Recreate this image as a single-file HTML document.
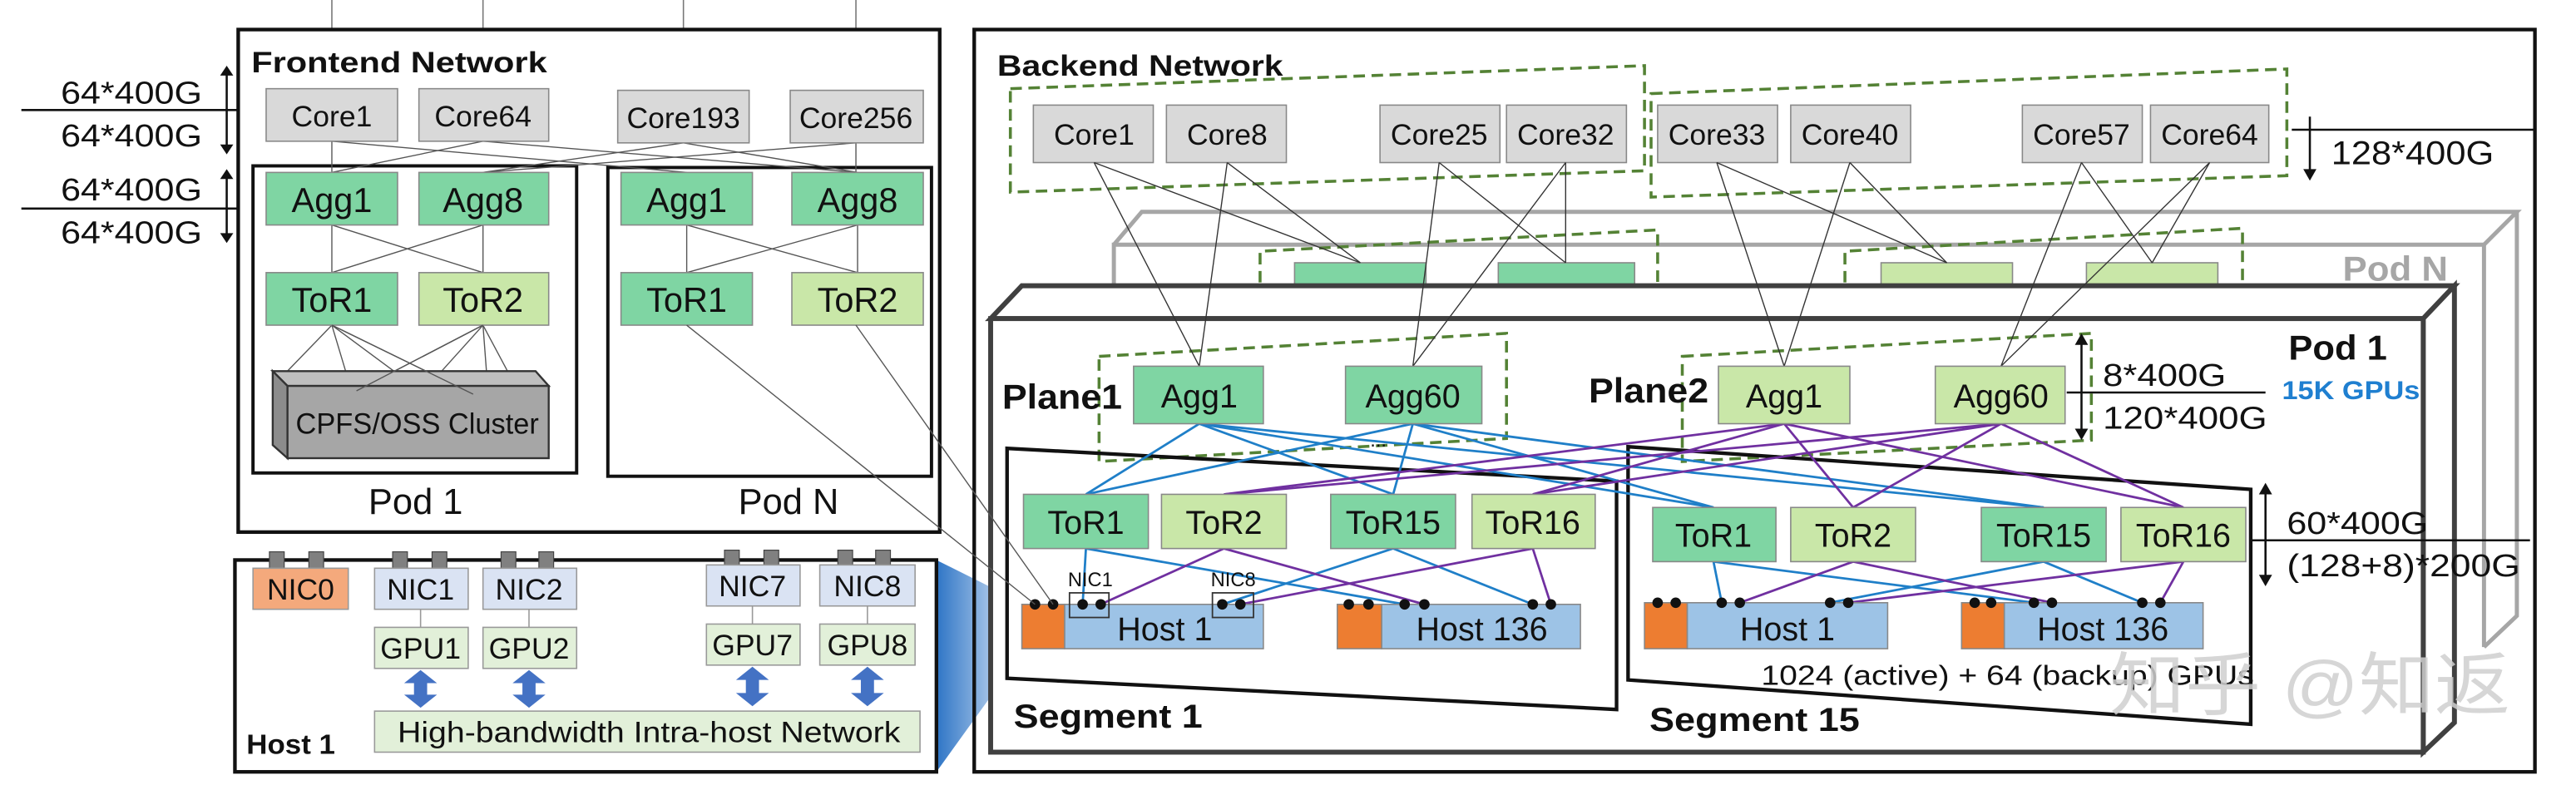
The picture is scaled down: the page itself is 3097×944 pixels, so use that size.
<!DOCTYPE html>
<html><head><meta charset="utf-8"><style>
html,body{margin:0;padding:0;background:#fff}
svg{display:block}
text{font-family:"Liberation Sans","Noto Sans CJK SC",sans-serif;fill:#111}
.b{font-weight:bold}
.c{text-anchor:middle}
</style></head><body>
<svg width="3097" height="944" viewBox="0 0 1568 478" preserveAspectRatio="none" xmlns="http://www.w3.org/2000/svg">
<defs>
<linearGradient id="bg" x1="0" y1="0" x2="1" y2="0">
<stop offset="0" stop-color="#2e75c6"/><stop offset="1" stop-color="#eef4fb"/>
</linearGradient>
</defs>
<g stroke="#777" stroke-width="0.8" fill="none">
<line x1="202" y1="0" x2="202" y2="54"/><line x1="294" y1="0" x2="294" y2="54"/>
<line x1="416" y1="0" x2="416" y2="54"/><line x1="521" y1="0" x2="521" y2="54"/>
</g>
<!-- Frontend -->
<rect x="145" y="18" width="427" height="306" fill="#fff" stroke="#111" stroke-width="2.2"/>
<text x="153" y="44" class="b" font-size="18" textLength="180" lengthAdjust="spacingAndGlyphs">Frontend Network</text>
<g font-size="19">
<text x="37" y="63" textLength="86" lengthAdjust="spacingAndGlyphs">64*400G</text>
<text x="37" y="89" textLength="86" lengthAdjust="spacingAndGlyphs">64*400G</text>
<text x="37" y="122" textLength="86" lengthAdjust="spacingAndGlyphs">64*400G</text>
<text x="37" y="148" textLength="86" lengthAdjust="spacingAndGlyphs">64*400G</text>
</g>
<g stroke="#111" stroke-width="1.3">
<line x1="13" y1="67" x2="146" y2="67"/><line x1="13" y1="127" x2="146" y2="127"/>
<line x1="138" y1="44" x2="138" y2="90"/><line x1="138" y1="107" x2="138" y2="144"/>
</g>
<g fill="#111">
<polygon points="134,46 142,46 138,40"/><polygon points="134,88 142,88 138,94"/>
<polygon points="134,109 142,109 138,103"/><polygon points="134,142 142,142 138,148"/>
</g>
<rect x="154" y="101" width="197" height="187" fill="none" stroke="#111" stroke-width="2"/>
<rect x="370" y="102" width="197" height="188" fill="none" stroke="#111" stroke-width="2"/>
<g stroke="#555" stroke-width="0.7" fill="none">
<line x1="202" y1="86" x2="202" y2="105"/><line x1="202" y1="86" x2="418" y2="105"/>
<line x1="294" y1="86" x2="202" y2="105"/><line x1="294" y1="86" x2="522" y2="105"/>
<line x1="416" y1="87" x2="294" y2="105"/><line x1="416" y1="87" x2="522" y2="105"/>
<line x1="521" y1="87" x2="294" y2="105"/><line x1="521" y1="87" x2="521" y2="105"/>
<line x1="202" y1="137" x2="202" y2="166"/><line x1="202" y1="137" x2="294" y2="166"/>
<line x1="294" y1="137" x2="202" y2="166"/><line x1="294" y1="137" x2="294" y2="166"/>
<line x1="418" y1="137" x2="418" y2="166"/><line x1="418" y1="137" x2="522" y2="166"/>
<line x1="522" y1="137" x2="418" y2="166"/><line x1="522" y1="137" x2="522" y2="166"/>
<line x1="202" y1="198" x2="173" y2="228"/><line x1="202" y1="198" x2="214" y2="238"/>
<line x1="202" y1="198" x2="256" y2="238"/><line x1="202" y1="198" x2="288" y2="240"/>
<line x1="294" y1="198" x2="217" y2="238"/><line x1="294" y1="198" x2="258" y2="238"/>
<line x1="294" y1="198" x2="297" y2="238"/><line x1="294" y1="198" x2="310" y2="228"/>
</g>
<g stroke="#888" stroke-width="0.8">
<rect x="162" y="54" width="80" height="32" fill="#d9d9d9"/>
<rect x="255" y="54" width="79" height="32" fill="#d9d9d9"/>
<rect x="376" y="55" width="80" height="32" fill="#d9d9d9"/>
<rect x="481" y="55" width="81" height="32" fill="#d9d9d9"/>
<rect x="162" y="105" width="80" height="32" fill="#7fd5a3"/>
<rect x="255" y="105" width="79" height="32" fill="#7fd5a3"/>
<rect x="378" y="105" width="80" height="32" fill="#7fd5a3"/>
<rect x="482" y="105" width="80" height="32" fill="#7fd5a3"/>
<rect x="162" y="166" width="80" height="32" fill="#7fd5a3"/>
<rect x="255" y="166" width="79" height="32" fill="#c9e7a8"/>
<rect x="378" y="166" width="80" height="32" fill="#7fd5a3"/>
<rect x="482" y="166" width="80" height="32" fill="#c9e7a8"/>
</g>
<g font-size="18">
<text x="202" y="77" class="c">Core1</text>
<text x="294" y="77" class="c">Core64</text>
<text x="416" y="78" class="c">Core193</text>
<text x="521" y="78" class="c">Core256</text>
</g>
<g font-size="21">
<text x="202" y="129" class="c">Agg1</text><text x="294" y="129" class="c">Agg8</text>
<text x="418" y="129" class="c">Agg1</text><text x="522" y="129" class="c">Agg8</text>
<text x="202" y="190" class="c">ToR1</text><text x="294" y="190" class="c">ToR2</text>
<text x="418" y="190" class="c">ToR1</text><text x="522" y="190" class="c">ToR2</text>
</g>
<!-- CPFS -->
<polygon points="166,226 326,226 334,235 175,235" fill="#bfbfbf" stroke="#333" stroke-width="1.2"/>
<polygon points="166,226 175,235 175,279 166,271" fill="#8c8c8c" stroke="#333" stroke-width="1.2"/>
<rect x="175" y="235" width="159" height="44" fill="#a6a6a6" stroke="#333" stroke-width="1.2"/>
<text x="254" y="264" class="c" font-size="18" textLength="148" lengthAdjust="spacingAndGlyphs">CPFS/OSS Cluster</text>
<g stroke="#555" stroke-width="0.7"><line x1="202" y1="198" x2="288" y2="240"/><line x1="294" y1="198" x2="217" y2="238"/></g>
<text x="253" y="313" class="c" font-size="22">Pod 1</text>
<text x="480" y="313" class="c" font-size="22">Pod N</text>
<!-- Host 1 -->
<polygon points="570,341 624,368 624,395 570,470" fill="url(#bg)"/>
<rect x="143" y="341" width="427" height="129" fill="#fff" stroke="#111" stroke-width="2.2"/>
<g fill="#808080" stroke="#444" stroke-width="0.6">
<rect x="164" y="336" width="9" height="11"/><rect x="188" y="336" width="9" height="11"/>
<rect x="239" y="336" width="9" height="11"/><rect x="263" y="336" width="9" height="11"/>
<rect x="305" y="336" width="9" height="11"/><rect x="328" y="336" width="9" height="11"/>
<rect x="441" y="335" width="9" height="11"/><rect x="465" y="335" width="9" height="11"/>
<rect x="510" y="335" width="9" height="11"/><rect x="533" y="335" width="9" height="11"/>
</g>
<g stroke="#999" stroke-width="0.8">
<rect x="154" y="346" width="58" height="25" fill="#f4a97c"/>
<rect x="228" y="346" width="57" height="25" fill="#dae3f3"/>
<rect x="294" y="346" width="57" height="25" fill="#dae3f3"/>
<rect x="430" y="344" width="57" height="25" fill="#dae3f3"/>
<rect x="499" y="344" width="58" height="25" fill="#dae3f3"/>
<line x1="256" y1="371" x2="256" y2="382"/><line x1="322" y1="371" x2="322" y2="382"/>
<line x1="458" y1="369" x2="458" y2="380"/><line x1="528" y1="369" x2="528" y2="380"/>
<rect x="228" y="382" width="57" height="25" fill="#e2f0d9"/>
<rect x="294" y="382" width="57" height="25" fill="#e2f0d9"/>
<rect x="430" y="380" width="57" height="25" fill="#e2f0d9"/>
<rect x="499" y="380" width="58" height="25" fill="#e2f0d9"/>
<rect x="228" y="433" width="332" height="25" fill="#e2f0d9"/>
</g>
<g font-size="18">
<text x="183" y="365" class="c">NIC0</text><text x="256" y="365" class="c">NIC1</text>
<text x="322" y="365" class="c">NIC2</text><text x="458" y="363" class="c">NIC7</text>
<text x="528" y="363" class="c">NIC8</text>
<text x="256" y="401" class="c">GPU1</text><text x="322" y="401" class="c">GPU2</text>
<text x="458" y="399" class="c">GPU7</text><text x="528" y="399" class="c">GPU8</text>
</g>
<text x="242" y="452" font-size="18" textLength="306" lengthAdjust="spacingAndGlyphs">High-bandwidth Intra-host Network</text>
<text x="150" y="459" class="b" font-size="17" textLength="54" lengthAdjust="spacingAndGlyphs">Host 1</text>
<g fill="#4472c4">
<polygon points="256,408 266,416 260,416 260,423 266,423 256,431 246,423 252,423 252,416 246,416"/>
<polygon points="322,408 332,416 326,416 326,423 332,423 322,431 312,423 318,423 318,416 312,416"/>
<polygon points="458,406 468,414 462,414 462,422 468,422 458,430 448,422 454,422 454,414 448,414"/>
<polygon points="528,406 538,414 532,414 532,422 538,422 528,430 518,422 524,422 524,414 518,414"/>
</g>
<!-- Backend -->
<rect x="593" y="18" width="950" height="452" fill="none" stroke="#111" stroke-width="2.2"/>
<text x="607" y="46" class="b" font-size="18" textLength="174" lengthAdjust="spacingAndGlyphs">Backend Network</text>
<g fill="none" stroke="#548235" stroke-width="1.8" stroke-dasharray="7,4">
<polygon points="615,54 1001,40 1001,104 615,117"/>
<polygon points="1005,57 1392,42 1392,107 1005,120"/>
</g>
<g stroke="#888" stroke-width="0.8" fill="#d9d9d9">
<rect x="629" y="64" width="73" height="35"/><rect x="710" y="64" width="73" height="35"/>
<rect x="840" y="64" width="73" height="35"/><rect x="917" y="64" width="73" height="35"/>
<rect x="1009" y="64" width="73" height="35"/><rect x="1090" y="64" width="73" height="35"/>
<rect x="1231" y="64" width="73" height="35"/><rect x="1309" y="64" width="72" height="35"/>
</g>
<g font-size="18">
<text x="666" y="88" class="c">Core1</text><text x="747" y="88" class="c">Core8</text>
<text x="876" y="88" class="c">Core25</text><text x="953" y="88" class="c">Core32</text>
<text x="1045" y="88" class="c">Core33</text><text x="1126" y="88" class="c">Core40</text>
<text x="1267" y="88" class="c">Core57</text><text x="1345" y="88" class="c">Core64</text>
</g>
<g stroke="#111" stroke-width="1.3"><line x1="1395" y1="79" x2="1543" y2="79"/><line x1="1406" y1="71" x2="1406" y2="104"/></g>
<polygon points="1402,103 1410,103 1406,110" fill="#111"/>
<text x="1419" y="100" font-size="20" textLength="99" lengthAdjust="spacingAndGlyphs">128*400G</text>
<!-- Pod N -->
<g fill="none" stroke="#a6a6a6" stroke-width="2.5">
<path d="M678,194 L678,149 L1512,149 L1512,394"/>
<path d="M678,149 L695,129 L1532,129 L1512,149"/>
<path d="M1532,129 L1532,375 L1512,394"/>
</g>
<text x="1426" y="171" class="b" font-size="21" style="fill:#a6a6a6" textLength="64" lengthAdjust="spacingAndGlyphs">Pod N</text>
<g fill="none" stroke="#548235" stroke-width="1.8" stroke-dasharray="7,4">
<path d="M767,172 L767,153 L1009,140 L1009,172"/>
<path d="M1123,172 L1123,153 L1365,139 L1365,172"/>
</g>
<g stroke="#888" stroke-width="0.8">
<rect x="788" y="160" width="80" height="14" fill="#7fd5a3"/><rect x="912" y="160" width="83" height="14" fill="#7fd5a3"/>
<rect x="1145" y="160" width="80" height="14" fill="#c9e7a8"/><rect x="1270" y="160" width="80" height="14" fill="#c9e7a8"/>
</g>
<!-- Pod 1 -->
<g stroke="#404040" stroke-width="3" fill="#fff">
<polygon points="603,194 622,174 1494,174 1475,194"/>
<polygon points="1475,194 1494,174 1494,440 1475,458"/>
<rect x="603" y="194" width="872" height="264"/>
</g>
<text x="1393" y="219" class="b" font-size="21" textLength="60" lengthAdjust="spacingAndGlyphs">Pod 1</text>
<text x="1389" y="243" class="b" font-size="16" style="fill:#1f7fd0" textLength="84" lengthAdjust="spacingAndGlyphs">15K GPUs</text>
<g fill="none" stroke="#548235" stroke-width="1.8" stroke-dasharray="7,4">
<polygon points="669,217 917,203 917,267 669,281"/>
<polygon points="1024,217 1273,203 1273,268 1024,281"/>
</g>
<g fill="none" stroke="#111" stroke-width="2.2">
<polygon points="613,273 984,293 984,432 613,413"/>
<polygon points="991,272 1370,298 1370,441 991,414"/>
</g>
<text x="617" y="443" class="b" font-size="20" textLength="115" lengthAdjust="spacingAndGlyphs">Segment 1</text>
<text x="1004" y="445" class="b" font-size="20" textLength="128" lengthAdjust="spacingAndGlyphs">Segment 15</text>
<text x="610" y="249" class="b" font-size="21" textLength="73" lengthAdjust="spacingAndGlyphs">Plane1</text>
<text x="967" y="245" class="b" font-size="21" textLength="73" lengthAdjust="spacingAndGlyphs">Plane2</text>
<g stroke="#111" stroke-width="1.3"><line x1="1258" y1="239" x2="1379" y2="239"/><line x1="1267" y1="209" x2="1267" y2="262"/>
<line x1="1371" y1="329" x2="1540" y2="329"/><line x1="1379" y1="300" x2="1379" y2="351"/></g>
<g fill="#111"><polygon points="1263,210 1271,210 1267,203"/><polygon points="1263,261 1271,261 1267,268"/>
<polygon points="1375,301 1383,301 1379,294"/><polygon points="1375,350 1383,350 1379,357"/></g>
<g font-size="19">
<text x="1280" y="235" textLength="75" lengthAdjust="spacingAndGlyphs">8*400G</text>
<text x="1280" y="261" textLength="100" lengthAdjust="spacingAndGlyphs">120*400G</text>
<text x="1392" y="325" textLength="86" lengthAdjust="spacingAndGlyphs">60*400G</text>
<text x="1392" y="351" textLength="142" lengthAdjust="spacingAndGlyphs">(128+8)*200G</text>
</g>
<!-- core links -->
<g stroke="#333" stroke-width="0.7" fill="none">
<line x1="666" y1="99" x2="730" y2="223"/><line x1="666" y1="99" x2="828" y2="160"/>
<line x1="747" y1="99" x2="730" y2="223"/><line x1="747" y1="99" x2="828" y2="160"/>
<line x1="876" y1="99" x2="860" y2="223"/><line x1="876" y1="99" x2="953" y2="160"/>
<line x1="953" y1="99" x2="860" y2="223"/><line x1="953" y1="99" x2="953" y2="160"/>
<line x1="1045" y1="99" x2="1086" y2="223"/><line x1="1045" y1="99" x2="1185" y2="160"/>
<line x1="1126" y1="99" x2="1086" y2="223"/><line x1="1126" y1="99" x2="1185" y2="160"/>
<line x1="1267" y1="99" x2="1218" y2="223"/><line x1="1267" y1="99" x2="1310" y2="160"/>
<line x1="1345" y1="99" x2="1218" y2="223"/><line x1="1345" y1="99" x2="1310" y2="160"/>
</g>
<g stroke="#1f7fc8" stroke-width="1.4" fill="none">
<line x1="730" y1="258" x2="661" y2="301"/><line x1="730" y1="258" x2="848" y2="301"/>
<line x1="730" y1="258" x2="1043" y2="309"/><line x1="730" y1="258" x2="1244" y2="309"/>
<line x1="860" y1="258" x2="661" y2="301"/><line x1="860" y1="258" x2="848" y2="301"/>
<line x1="860" y1="258" x2="1043" y2="309"/><line x1="860" y1="258" x2="1244" y2="309"/>
<line x1="661" y1="334" x2="659" y2="368"/><line x1="661" y1="334" x2="855" y2="368"/>
<line x1="848" y1="334" x2="744" y2="368"/><line x1="848" y1="334" x2="933" y2="368"/>
<line x1="1043" y1="342" x2="1048" y2="367"/><line x1="1043" y1="342" x2="1238" y2="367"/>
<line x1="1244" y1="342" x2="1114" y2="367"/><line x1="1244" y1="342" x2="1304" y2="367"/>
</g>
<g stroke="#7030a0" stroke-width="1.4" fill="none">
<line x1="1086" y1="258" x2="745" y2="301"/><line x1="1086" y1="258" x2="933" y2="301"/>
<line x1="1086" y1="258" x2="1128" y2="309"/><line x1="1086" y1="258" x2="1329" y2="309"/>
<line x1="1218" y1="258" x2="745" y2="301"/><line x1="1218" y1="258" x2="933" y2="301"/>
<line x1="1218" y1="258" x2="1128" y2="309"/><line x1="1218" y1="258" x2="1329" y2="309"/>
<line x1="745" y1="334" x2="670" y2="368"/><line x1="745" y1="334" x2="867" y2="368"/>
<line x1="933" y1="334" x2="755" y2="368"/><line x1="933" y1="334" x2="944" y2="368"/>
<line x1="1128" y1="342" x2="1059" y2="367"/><line x1="1128" y1="342" x2="1249" y2="367"/>
<line x1="1329" y1="342" x2="1125" y2="367"/><line x1="1329" y1="342" x2="1315" y2="367"/>
</g>
<g stroke="#888" stroke-width="0.8">
<rect x="690" y="223" width="79" height="35" fill="#7fd5a3"/><rect x="819" y="223" width="83" height="35" fill="#7fd5a3"/>
<rect x="1046" y="223" width="80" height="35" fill="#c9e7a8"/><rect x="1178" y="223" width="79" height="35" fill="#c9e7a8"/>
<rect x="623" y="301" width="76" height="33" fill="#7fd5a3"/><rect x="707" y="301" width="76" height="33" fill="#c9e7a8"/>
<rect x="810" y="301" width="76" height="33" fill="#7fd5a3"/><rect x="896" y="301" width="75" height="33" fill="#c9e7a8"/>
<rect x="1006" y="309" width="75" height="33" fill="#7fd5a3"/><rect x="1090" y="309" width="76" height="33" fill="#c9e7a8"/>
<rect x="1206" y="309" width="76" height="33" fill="#7fd5a3"/><rect x="1291" y="309" width="76" height="33" fill="#c9e7a8"/>
<rect x="648" y="368" width="121" height="27" fill="#9dc3e6"/><rect x="622" y="368" width="26" height="27" fill="#ed7d31"/>
<rect x="841" y="368" width="121" height="27" fill="#9dc3e6"/><rect x="814" y="368" width="27" height="27" fill="#ed7d31"/>
<rect x="1027" y="367" width="122" height="28" fill="#9dc3e6"/><rect x="1001" y="367" width="26" height="28" fill="#ed7d31"/>
<rect x="1220" y="367" width="121" height="28" fill="#9dc3e6"/><rect x="1194" y="367" width="26" height="28" fill="#ed7d31"/>
</g>
<g fill="none" stroke="#333" stroke-width="0.9"><rect x="651" y="361" width="24" height="15"/><rect x="738" y="361" width="25" height="15"/></g>
<g fill="#111">
<circle cx="630" cy="368" r="3.2"/><circle cx="641" cy="368" r="3.2"/><circle cx="659" cy="368" r="3.2"/><circle cx="670" cy="368" r="3.2"/>
<circle cx="744" cy="368" r="3.2"/><circle cx="755" cy="368" r="3.2"/><circle cx="821" cy="368" r="3.2"/><circle cx="833" cy="368" r="3.2"/>
<circle cx="855" cy="368" r="3.2"/><circle cx="867" cy="368" r="3.2"/><circle cx="933" cy="368" r="3.2"/><circle cx="944" cy="368" r="3.2"/>
<circle cx="1009" cy="367" r="3.2"/><circle cx="1020" cy="367" r="3.2"/><circle cx="1048" cy="367" r="3.2"/><circle cx="1059" cy="367" r="3.2"/>
<circle cx="1114" cy="367" r="3.2"/><circle cx="1125" cy="367" r="3.2"/><circle cx="1202" cy="367" r="3.2"/><circle cx="1212" cy="367" r="3.2"/>
<circle cx="1238" cy="367" r="3.2"/><circle cx="1249" cy="367" r="3.2"/><circle cx="1304" cy="367" r="3.2"/><circle cx="1315" cy="367" r="3.2"/>
</g>
<g font-size="20">
<text x="730" y="248" class="c">Agg1</text><text x="860" y="248" class="c">Agg60</text>
<text x="1086" y="248" class="c">Agg1</text><text x="1218" y="248" class="c">Agg60</text>
</g>
<g font-size="20">
<text x="661" y="325" class="c">ToR1</text><text x="745" y="325" class="c">ToR2</text>
<text x="848" y="325" class="c">ToR15</text><text x="933" y="325" class="c">ToR16</text>
<text x="1043" y="333" class="c">ToR1</text><text x="1128" y="333" class="c">ToR2</text>
<text x="1244" y="333" class="c">ToR15</text><text x="1329" y="333" class="c">ToR16</text>
<text x="709" y="390" class="c">Host 1</text><text x="902" y="390" class="c">Host 136</text>
<text x="1088" y="390" class="c">Host 1</text><text x="1280" y="390" class="c">Host 136</text>
</g>
<text x="650" y="357" font-size="12">NIC1</text><text x="737" y="357" font-size="12">NIC8</text>
<text x="839" y="272" font-size="12" class="c">...</text>
<text x="1072" y="417" font-size="17" textLength="300" lengthAdjust="spacingAndGlyphs">1024 (active) + 64 (backup) GPUs</text>
<g stroke="#555" stroke-width="0.7"><line x1="418" y1="198" x2="630" y2="368"/><line x1="521" y1="198" x2="641" y2="368"/></g>
<text x="1284" y="432" font-size="42" style="fill:#cfcfcf;opacity:0.85" textLength="244" lengthAdjust="spacingAndGlyphs">知乎 @知返</text>
</svg>
</body></html>
